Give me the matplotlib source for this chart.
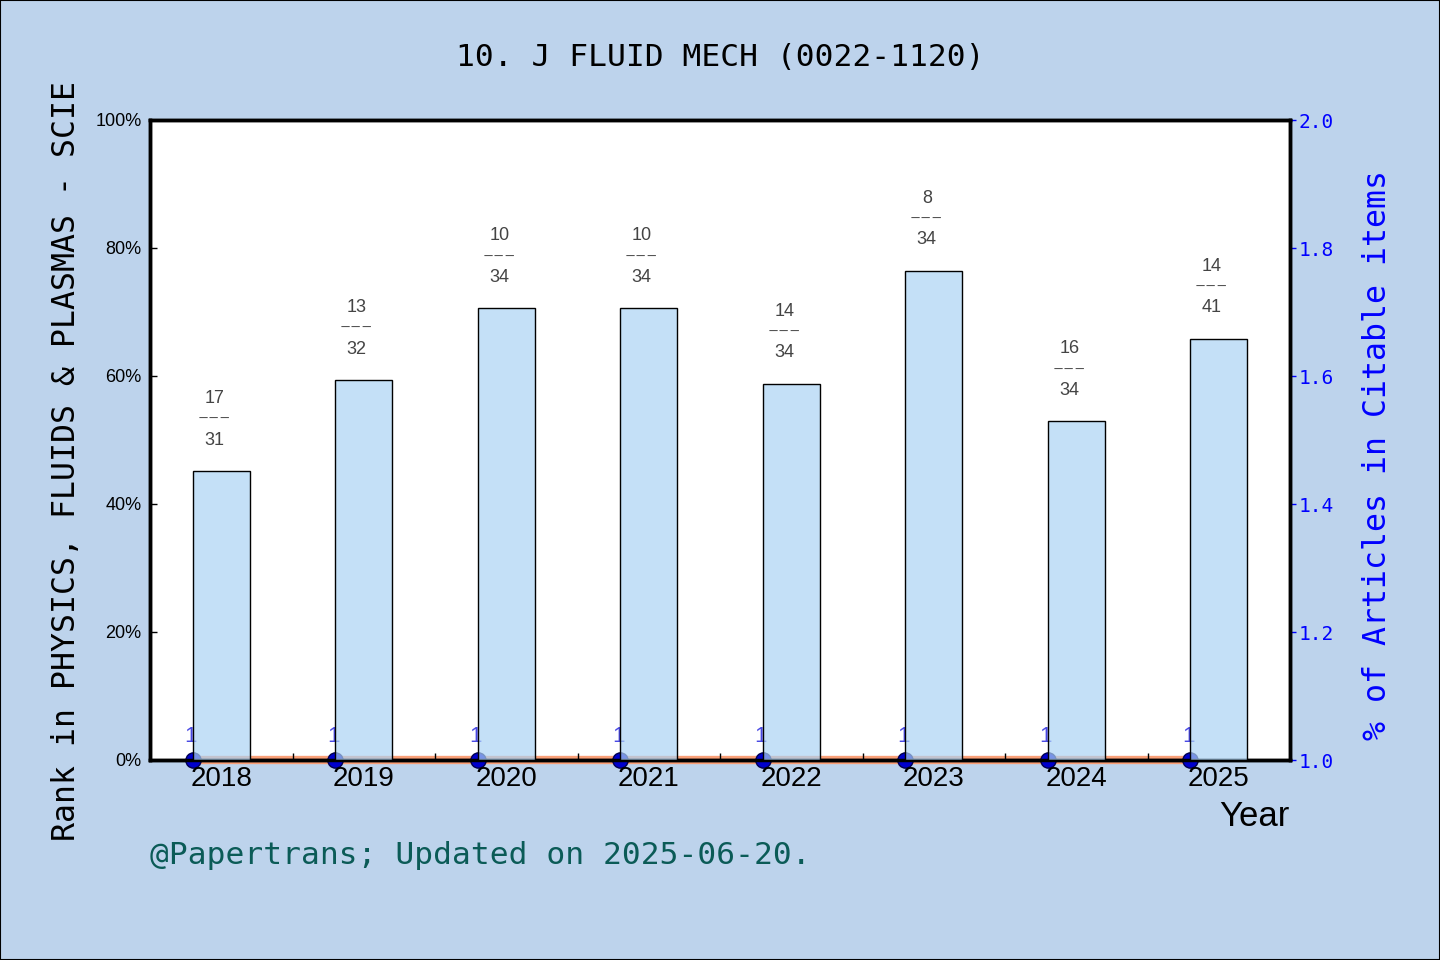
import matplotlib.pyplot as plt
import numpy as np

years = [2018, 2019, 2020, 2021, 2022, 2023, 2024, 2025]
ranks = [17, 13, 10, 10, 14, 8, 16, 14]
totals = [31, 32, 34, 34, 34, 34, 34, 41]
citable_pct = [1, 1, 1, 1, 1, 1, 1, 1]

bg = '#bdd3ec'
mono = 'DejaVu Sans Mono'
sans = 'Liberation Sans'

years = np.array(years)
pct = [100 * (1 - r / t) for r, t in zip(ranks, totals)]

fig = plt.figure(figsize=(14.4, 9.6), dpi=100, facecolor=bg)
fig.patches.append(plt.Rectangle((0, 0), 1, 1, transform=fig.transFigure,
                                 fill=False, edgecolor='black', linewidth=1.5))
ax = fig.add_axes([150 / 1440, 200 / 960, 1140 / 1440, 640 / 960])
ax2 = ax.twinx()

# line/markers go underneath the translucent bars
ax2.set_zorder(ax.get_zorder() - 1)
ax.patch.set_visible(False)
ax2.patch.set_visible(True)
ax2.patch.set_facecolor('white')

ax2.plot(years, citable_pct, color='#faa078', linewidth=6, zorder=2, clip_on=False)
ax2.plot(years, citable_pct, 'o', color='#0000cd', markeredgecolor='#000050',
         markersize=11, zorder=3, clip_on=False)
for x, v in zip(years, citable_pct):
    ax2.annotate(str(v), (x, v), xytext=(-1.5, 13), textcoords='offset points',
                 ha='center', va='baseline', fontsize=16, color='#2a2ae0',
                 family=sans, alpha=0.85)
ax2.set_ylim(1.0, 2.0)
ax2.set_yticks(np.arange(1.0, 2.01, 0.2))
ax2.set_yticklabels([f'{v:.1f}' for v in np.arange(1.0, 2.01, 0.2)])
ax2.tick_params(axis='y', colors='blue', labelsize=14, direction='out', length=4, width=1,
                pad=2)
for lab in ax2.get_yticklabels():
    lab.set_family(mono)
ax2.set_ylabel('% of Articles in Citable items', color='blue', fontsize=22.7,
               family=mono)
ax2.yaxis.set_label_coords(1.0632, 0.477)

ax.bar(years, pct, width=0.4, align='edge', color=(172 / 255, 211 / 255, 244 / 255, 0.7),
       edgecolor='black', linewidth=1, zorder=3)
for x, p, r, t in zip(years, pct, ranks, totals):
    ax.annotate(str(t), (x + 0.2, p), xytext=(-5, 16), textcoords='offset points',
                ha='center', va='bottom', fontsize=13, color='#444444', family=sans)
    ax.annotate('\u2212\u2212\u2212', (x + 0.2, p), xytext=(-5, 35),
                textcoords='offset points', ha='center', va='baseline', fontsize=9.5,
                color='#555555', family='DejaVu Sans')
    ax.annotate(str(r), (x + 0.2, p), xytext=(-5, 46), textcoords='offset points',
                ha='center', va='bottom', fontsize=13, color='#444444', family=sans)

ax.set_xlim(2017.7, 2025.7)
ax.set_ylim(0, 100)
ax.set_xticks(years + 0.2)
ax.set_xticklabels([str(y) for y in years], family=sans, fontsize=20)
ax.set_xticks(years + 0.7, minor=True)
ax.tick_params(axis='x', which='major', length=0, pad=4)
ax.tick_params(axis='x', which='minor', direction='in', length=5, width=1)
ax.set_yticks(range(0, 101, 20))
ax.set_yticklabels([f'{v}%' for v in range(0, 101, 20)], family=sans, fontsize=13)
ax.tick_params(axis='y', direction='in', length=5, width=1, pad=6)

for sp in ax.spines.values():
    sp.set_linewidth(2.5)
for sp in ax2.spines.values():
    sp.set_linewidth(2.5)

ax.set_ylabel('Rank in PHYSICS, FLUIDS & PLASMAS - SCIE', fontsize=22.7, family=mono)
ax.yaxis.set_label_coords(-0.060, 0.467)
ax.text(1.0, 1 - (817 - 120) / 640, 'Year', transform=ax.transAxes, ha='right',
        va='center', fontsize=25, family=sans)
fig.text(0.5, 1 - 58 / 960, '10. J FLUID MECH (0022-1120)', ha='center', va='center',
         fontsize=22.5, family=mono)
fig.text(150 / 1440, 1 - 855 / 960, '@Papertrans; Updated on 2025-06-20.',
         ha='left', va='center', fontsize=22.5, family=mono, color='#0b5b57')

fig.savefig('out.png', dpi=100, facecolor=bg)
